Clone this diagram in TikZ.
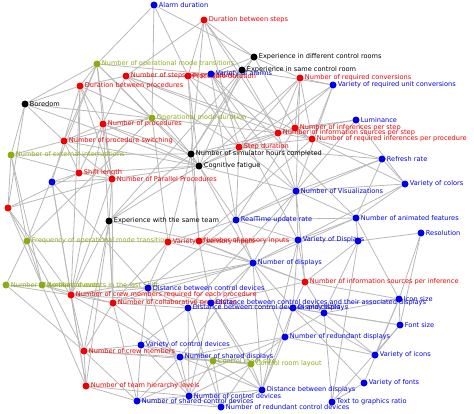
\documentclass[tikz,border=0pt]{standalone}
\usepackage{fontspec}
\setmainfont{DejaVu Sans}
\usetikzlibrary{backgrounds}

\definecolor{nred}{RGB}{240,0,0}
\definecolor{nblue}{RGB}{0,0,235}
\definecolor{ngreen}{RGB}{140,172,20}
\definecolor{egray}{RGB}{185,185,185}

\tikzset{
  dot/.style={circle, inner sep=0pt, minimum size=7pt},
  lab/.style={font=\fontsize{6.6}{7.5}\selectfont, inner sep=1pt},
  rdot/.style={dot, fill=nred, label={[lab, text=nred]right:#1}},
  bdot/.style={dot, fill=nblue, label={[lab, text=nblue]right:#1}},
  gdot/.style={dot, fill=ngreen, label={[lab, text=ngreen]right:#1}},
  kdot/.style={dot, fill=black, label={[lab, text=black]right:#1}},
  link/.style={draw=egray, line width=0.8pt}
}

\begin{document}
\begin{tikzpicture}[x=1pt, y=-1pt]
	\useasboundingbox (0,0) rectangle (474,413);
	
	% Top
	\node[bdot=Alarm duration] (alarm) at (154,5) {};
	\node[rdot=Duration between steps] (dursteps) at (204,20) {};
	\node[gdot=Number of operational mode transitions] (optrans) at (97,64) {};
	\node[rdot=Number of steps per procedure] (nsteps) at (126,76) {};
	\node[rdot=Procedure duration] (procdur) at (188,76) {};
	\node[bdot=Variety of alarms] (varalarm) at (211,74) {};
	\node[kdot=Experience in different control rooms] (expdiff) at (254,57) {};
	\node[kdot=Experience in same control room] (expsame) at (242,70) {};
	\node[rdot=Number of required conversions] (reqconv) at (300,78) {};
	\node[bdot=Variety of required unit conversions] (varunit) at (333,85) {};
	\node[rdot=Duration between procedures] (durproc) at (80,86) {};
	\node[kdot=Boredom] (boredom) at (25,104) {};
	\node[gdot=Operational mode duration] (opdur) at (152,118) {};
	\node[rdot=Number of procedures] (nproc) at (103,124) {};
	\node[bdot=Luminance] (lumin) at (356,120) {};
	\node[rdot=Number of inferences per step] (infstep) at (295,128) {};
	\node[rdot=Number of information sources per step] (srcstep) at (278,133) {};
	\node[rdot=Number of required inferences per procedure] (infproc) at (312,139) {};
	
	% Middle
	\node[rdot=Number of procedure switching] (procsw) at (64,141) {};
	\node[gdot=Number of external interruptions] (extint) at (11,155) {};
	\node[kdot=Number of simulator hours completed] (simhrs) at (191,154) {};
	\node[kdot=Cognitive fatigue] (fatigue) at (199,166) {};
	\node[rdot=Step duration] (stepdur) at (239,147) {};
	\node[bdot=Refresh rate] (refresh) at (382,159) {};
	\node[rdot=Shift length] (shift) at (79,173) {};
	\node[bdot={}] (bA) at (52,182) {};
	\node[rdot=Number of Parallel Procedures] (parproc) at (112,179) {};
	\node[bdot=Variety of colors] (varcol) at (405,184) {};
	\node[bdot=Number of Visualizations] (nvis) at (296,191) {};
	\node[rdot={}] (rA) at (8,208) {};
	\node[kdot=Experience with the same team] (expteam) at (109,221) {};
	\node[bdot=RealTime update rate] (rtu) at (236,220) {};
	\node[bdot=Number of animated features] (anim) at (356,218) {};
	\node[gdot=Frequency of operational mode transitions] (freqop) at (27,241) {};
	\node[rdot=Variety of sensory inputs] (varsens) at (168,242) {};
	\node[rdot=Number of sensory inputs] (nsens) at (199,241) {};
	\node[bdot=Variety of Displays] (vardisp) at (298,240) {};
	\node[bdot={}] (bB) at (358,241) {};
	\node[bdot=Resolution] (resol) at (421,233) {};
	\node[bdot=Number of displays] (ndisp) at (253,263) {};
	\node[rdot=Number of information sources per inference] (srcinf) at (305,282) {};
	
	% Bottom
	\node[gdot=Number of Ambient events] (amb) at (6,285) {};
	\node[gdot=Number of events in the last Shift] (evshift) at (42,285) {};
	\node[bdot=Distance between control devices] (distcd) at (148,288) {};
	\node[rdot=Number of crew members required for each procedure] (crewproc) at (71,295) {};
	\node[rdot=Number of collaborative procedures] (collab) at (113,303) {};
	\node[bdot=Distance between control devices and their associated displays] (distcdd) at (211,303) {};
	\node[bdot=Distance between control devices and displays] (distcdb) at (188,308) {};
	\node[bdot=Display sizes] (dispsz) at (293,308) {};
	\node[bdot={}] (bC) at (324,313) {};
	\node[bdot=Icon size] (iconsz) at (399,299) {};
	\node[bdot=Font size] (fontsz) at (400,325) {};
	\node[bdot=Number of redundant displays] (redisp) at (285,337) {};
	\node[bdot=Variety of control devices] (varctl) at (141,345) {};
	\node[rdot=Number of crew members] (crew) at (84,351) {};
	\node[bdot=Number of shared displays] (shdisp) at (180,357) {};
	\node[gdot=Control room size] (crsize) at (213,361) {};
	\node[gdot=Control room layout] (layout) at (251,364) {};
	\node[bdot=Variety of icons] (varicon) at (375,355) {};
	\node[bdot=Variety of fonts] (varfont) at (364,383) {};
	\node[rdot=Number of team hierarchy levels] (hier) at (86,386) {};
	\node[bdot=Distance between displays] (distdisp) at (262,390) {};
	\node[bdot=Number of control devices] (nctl) at (189,396) {};
	\node[bdot=Number of shared control devices] (shctl) at (137,401) {};
	\node[bdot=Number of redundant control devices] (redctl) at (221,407) {};
	\node[bdot=Text to graphics ratio] (txtgr) at (332,402) {};
	
	% Links
	\begin{pgfonlayer}{background}
	\foreach \a/\b in {alarm/optrans, alarm/opdur, alarm/procdur, alarm/expdiff,
		dursteps/nsteps, dursteps/procdur, dursteps/expdiff, dursteps/expsame, dursteps/stepdur,
		dursteps/simhrs, dursteps/srcstep,
		optrans/boredom, optrans/durproc, optrans/nproc, optrans/procsw, optrans/opdur,
		optrans/varalarm, optrans/freqop, optrans/fatigue, optrans/parproc,
		nsteps/procdur, nsteps/stepdur, nsteps/simhrs, nsteps/durproc, nsteps/srcstep,
		nsteps/infproc, nsteps/shift,
		procdur/expsame, procdur/fatigue, procdur/stepdur, procdur/infproc, procdur/nsens,
		varalarm/expsame, varalarm/expdiff, varalarm/rtu, varalarm/nvis, varalarm/anim, varalarm/vardisp,
		expdiff/expsame, expdiff/simhrs, expdiff/reqconv, expdiff/infstep,
		expsame/simhrs, expsame/fatigue, expsame/expteam, expsame/srcstep, expsame/varunit,
		reqconv/varunit, reqconv/infstep, reqconv/srcstep, reqconv/infproc, reqconv/stepdur,
		reqconv/fatigue, reqconv/nvis,
		varunit/srcstep, varunit/stepdur, varunit/nvis, varunit/infproc,
		durproc/boredom, durproc/nproc, durproc/procsw, durproc/shift, durproc/opdur,
		durproc/parproc, durproc/crewproc,
		boredom/rA, boredom/procsw, boredom/opdur, boredom/fatigue, boredom/extint,
		opdur/nproc, opdur/procsw, opdur/freqop, opdur/simhrs, opdur/srcstep, opdur/varsens,
		nproc/procsw, nproc/parproc, nproc/simhrs, nproc/fatigue, nproc/crewproc, nproc/collab,
		lumin/infstep, lumin/nvis, lumin/varcol, lumin/srcstep,
		infstep/srcstep, infstep/infproc, infstep/fatigue, infstep/rtu,
		srcstep/infproc, srcstep/simhrs, srcstep/stepdur, srcstep/nvis,
		infproc/refresh, infproc/varcol, infproc/stepdur, infproc/nsens,
		procsw/extint, procsw/shift, procsw/parproc, procsw/bA, procsw/fatigue,
		extint/rA, extint/freqop, extint/evshift, extint/simhrs, extint/shift,
		simhrs/fatigue, simhrs/expteam, simhrs/stepdur, simhrs/rtu, simhrs/varsens, simhrs/nsens,
		fatigue/shift, fatigue/parproc, fatigue/nvis, fatigue/stepdur, fatigue/expteam, fatigue/ndisp,
		stepdur/nvis, stepdur/rtu, stepdur/refresh,
		refresh/nvis, refresh/varcol, refresh/anim, refresh/rtu,
		shift/bA, shift/parproc, shift/rA,
		bA/parproc, bA/crewproc, bA/hier, bA/distcd,
		parproc/rA, parproc/crewproc, parproc/collab, parproc/expteam,
		varcol/nvis, varcol/anim, varcol/vardisp,
		nvis/rtu, nvis/anim, nvis/vardisp, nvis/ndisp, nvis/distcdb, nvis/srcinf,
		rA/freqop, rA/evshift, rA/crewproc,
		expteam/crewproc, expteam/collab, expteam/crew, expteam/hier, expteam/nsens,
		rtu/anim, rtu/varsens, rtu/ndisp, rtu/vardisp, rtu/distcd,
		anim/vardisp, anim/bB, anim/ndisp, anim/iconsz,
		freqop/evshift, freqop/amb, freqop/crew, freqop/varsens,
		varsens/nsens, varsens/ndisp, varsens/distcd, varsens/collab,
		nsens/vardisp, nsens/ndisp, nsens/distcdd, nsens/srcinf,
		vardisp/bB, vardisp/ndisp, vardisp/srcinf, vardisp/dispsz, vardisp/distdisp,
		bB/resol, bB/srcinf, bB/bC, bB/txtgr,
		resol/iconsz, resol/fontsz,
		ndisp/srcinf, ndisp/distcd, ndisp/distcdd, ndisp/redisp, ndisp/shdisp, ndisp/distdisp,
		ndisp/dispsz, ndisp/collab, ndisp/crewproc,
		srcinf/dispsz, srcinf/bC, srcinf/distcdd, srcinf/iconsz,
		amb/evshift, amb/crew, amb/crewproc,
		evshift/crewproc, evshift/collab, evshift/distcd, evshift/hier,
		distcd/crewproc, distcd/collab, distcd/distcdb, distcd/varctl, distcd/nctl, distcd/distcdd,
		crewproc/collab, crewproc/crew, crewproc/hier, crewproc/shdisp, crewproc/distcdd,
		collab/crew, collab/shdisp, collab/distcdb, collab/shctl,
		distcdd/distcdb, distcdd/dispsz, distcdd/nctl, distcdd/distdisp, distcdd/layout,
		distcdb/varctl, distcdb/nctl, distcdb/dispsz, distcdb/redctl,
		dispsz/bC, dispsz/iconsz, dispsz/fontsz, dispsz/distdisp, dispsz/redisp, dispsz/varfont,
		bC/iconsz, bC/fontsz, bC/varicon, bC/txtgr, bC/redisp,
		iconsz/fontsz, iconsz/varicon, iconsz/varfont,
		fontsz/varicon, fontsz/txtgr,
		redisp/varicon, redisp/layout, redisp/shdisp, redisp/distdisp, redisp/shctl,
		varicon/dispsz, varfont/txtgr,
		varctl/crew, varctl/shdisp, varctl/nctl, varctl/shctl, varctl/layout,
		crew/hier, crew/shdisp, crew/shctl, crew/crsize,
		shdisp/crsize, shdisp/layout, shdisp/nctl, shdisp/distdisp, shdisp/shctl,
		crsize/layout, crsize/nctl, crsize/redctl, crsize/distdisp,
		layout/distdisp, layout/nctl, layout/redctl,
		hier/shctl, hier/nctl,
		distdisp/nctl, distdisp/redctl,
		nctl/shctl, nctl/redctl, shctl/redctl}
		\draw[link] (\a) -- (\b);
	\end{pgfonlayer}
	
\end{tikzpicture}
\end{document}
